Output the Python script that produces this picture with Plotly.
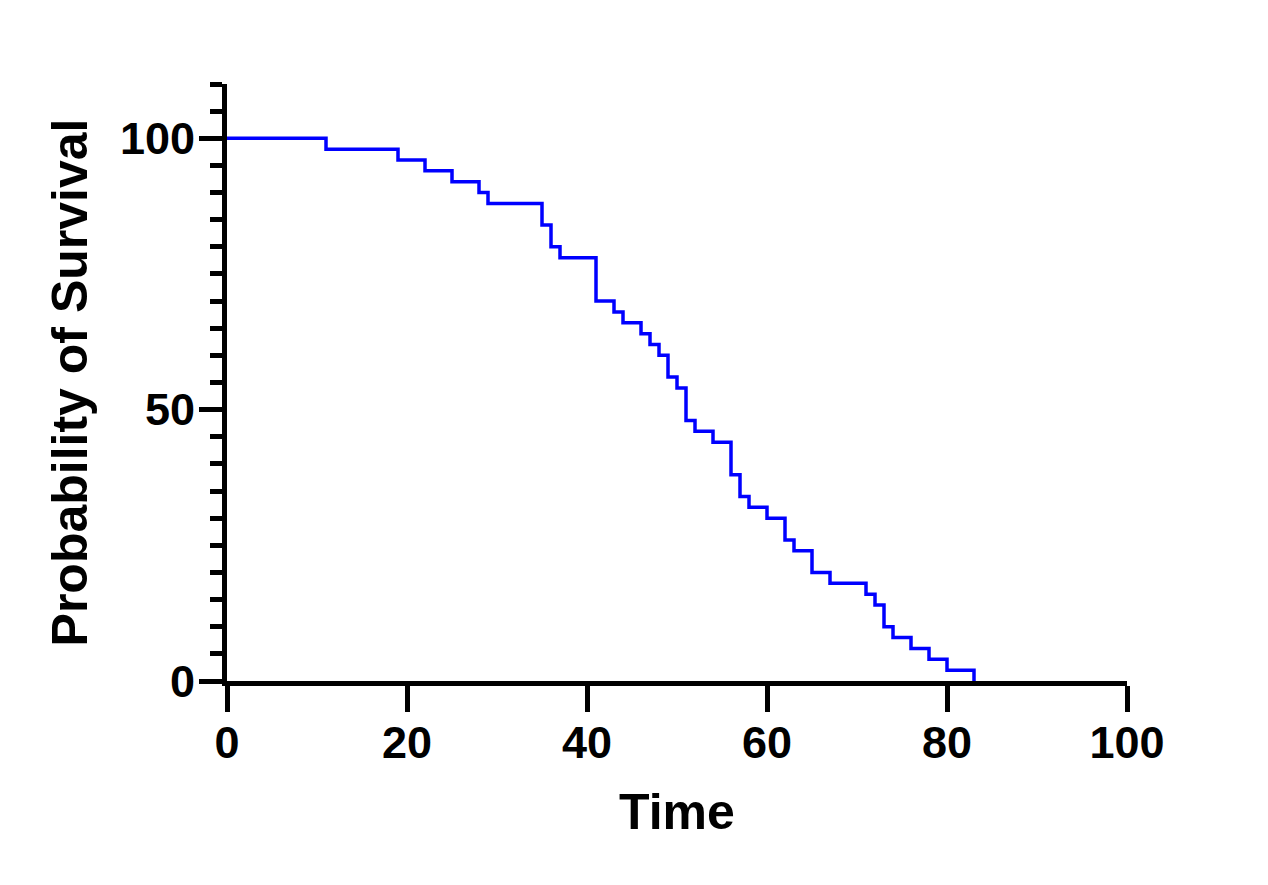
import plotly.graph_objects as go

# Kaplan-Meier steps
time = [0, 11, 19, 22, 25, 28, 29, 35, 36, 37, 41, 43, 44, 46, 47, 48, 49, 50,
        51, 52, 54, 56, 57, 58, 60, 62, 63, 65, 67, 71, 72, 73, 74, 76, 78, 80, 83]
survival = [100, 98, 96, 94, 92, 90, 88, 84, 80, 78, 70, 68, 66, 64, 62, 60, 56, 54,
            48, 46, 44, 38, 34, 32, 30, 26, 24, 20, 18, 16, 14, 10, 8, 6, 4, 2, 0]

x_ticks = [0, 20, 40, 60, 80, 100]
y_ticks = [0, 50, 100]

font_family = "Liberation Sans, Arial, sans-serif"

curve = go.Scatter(x=time, y=survival, mode='lines', line=dict(color='#0000FF', width=3.5, shape='hv'),
                   showlegend=False, cliponaxis=False)

fig = go.Figure(data=[curve])

fig.update_layout(
    width=1268, height=885,
    margin=dict(l=219, r=149, t=76, b=212),
    paper_bgcolor='white', plot_bgcolor='white',
    font=dict(family=font_family, color='black'),
    xaxis=dict(
        range=[0, 100], tickvals=x_ticks, ticks='outside', ticklen=26, tickwidth=5,
        tickcolor='black', showline=True, linewidth=5, linecolor='black',
        showgrid=False, zeroline=False,
        tickfont=dict(size=45, family=font_family, weight='bold'),
        ticklabelstandoff=-8,
        title=dict(text='<b>Time</b>', font=dict(size=50, family=font_family), standoff=28),
    ),
    yaxis=dict(
        range=[0, 110], tickvals=y_ticks, ticks='outside', ticklen=23, tickwidth=5,
        tickcolor='black', showline=True, linewidth=5, linecolor='black',
        showgrid=False, zeroline=False,
        minor=dict(dtick=5, tick0=0, ticks='outside', ticklen=12, tickwidth=5, tickcolor='black', showgrid=False),
        tickfont=dict(size=45, family=font_family, weight='bold'),
        ticklabelstandoff=-5,
        title=dict(text='<b>Probability of Survival</b>', font=dict(size=50, family=font_family), standoff=18),
    ),
)

fig.write_html("out.html")
